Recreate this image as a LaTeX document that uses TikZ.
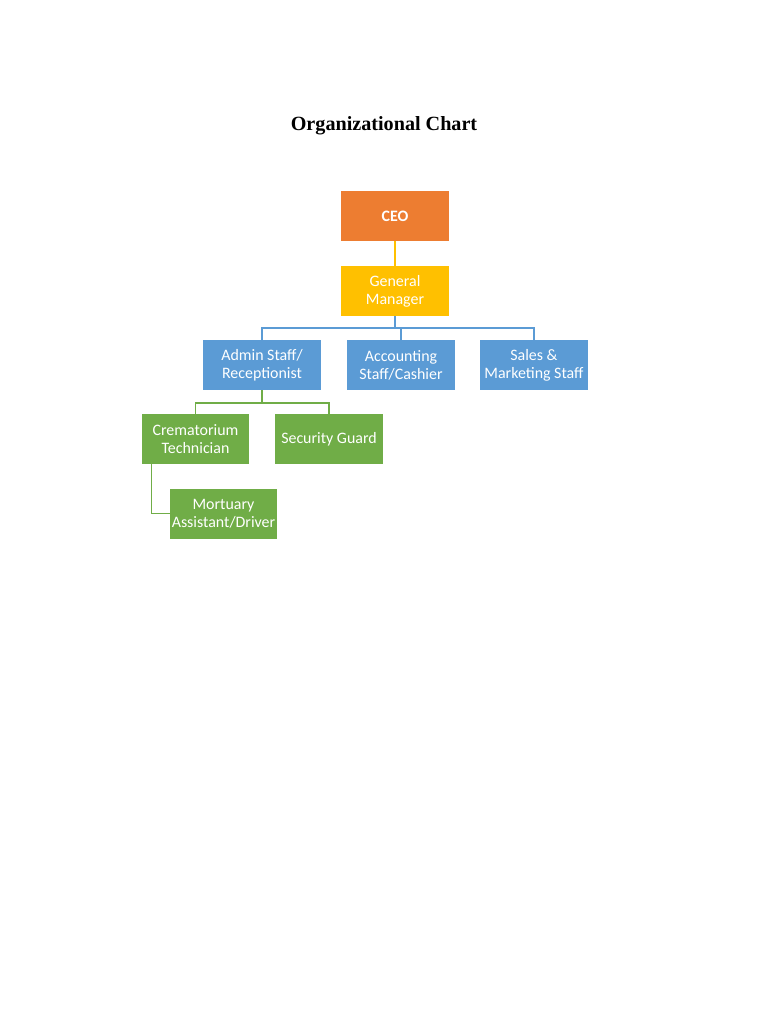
\documentclass[tikz,border=0pt]{standalone}
\usepackage{fontspec}
\setmainfont{Liberation Serif}
\newfontfamily\boxfont{Carlito}
\usepackage{xcolor}
\usepackage{tikz}
\usetikzlibrary{positioning}

\definecolor{ceoorange}{HTML}{ED7D31}
\definecolor{gmyellow}{HTML}{FFC000}
\definecolor{staffblue}{HTML}{5B9BD5}
\definecolor{techgreen}{HTML}{70AD47}

\begin{document}
\begin{tikzpicture}[x=0.03cm,y=-0.03cm,
    unit/.style={rectangle,draw=none,text=white,align=center,inner sep=1pt,
      minimum width=3.24cm,minimum height=1.5cm,font=\boxfont\fontsize{13.6}{15.5}\selectfont},
    link/.style={line width=0.9pt}]
  \useasboundingbox[fill=white] (0,0) rectangle (768,1024);
  \node[font=\bfseries\fontsize{17.2}{20}\selectfont] (title) at (384,126) {Organizational Chart};
  % top of the chart
  \node[unit,fill=ceoorange,font=\boxfont\bfseries\fontsize{13.6}{15.5}\selectfont] (ceo) at (395,216) {CEO};
  \node[unit,fill=gmyellow] (gm) at (395,291) {General\\Manager};
  % staff row
  \node[unit,fill=staffblue,minimum width=3.54cm] (admin) at (262,365) {Admin Staff/\\Receptionist};
  \node[unit,fill=staffblue] (acc) at (401,365) {Accounting\\Staff/Cashier};
  \node[unit,fill=staffblue] (sales) at (534,365) {Sales \&\\Marketing Staff};
  % technicians
  \node[unit,fill=techgreen,minimum width=3.21cm] (crem) at (195.5,439) {Crematorium\\Technician};
  \node[unit,fill=techgreen] (guard) at (329,439) {Security Guard};
  \node[unit,fill=techgreen,minimum width=3.21cm] (mort) at (223.5,513.5) {Mortuary\\Assistant/Driver};
  \coordinate (bus2) at (0,328);
  \coordinate (bus3) at (0,403);
  \draw[link,gmyellow] (ceo) -- (gm);
  \draw[link,staffblue] (gm.south) -- (gm.south |- bus2) -| (admin.north);
  \draw[link,staffblue] (gm.south |- bus2) -| (sales.north);
  \draw[link,staffblue] (acc.north |- bus2) -- (acc.north);
  \draw[link,techgreen] (admin.south) -- (admin.south |- bus3) -| (crem.north);
  \draw[link,techgreen] (admin.south |- bus3) -| (guard.north);
  \draw[link,techgreen] (crem.south west) ++(10,0) |- (mort.west);
\end{tikzpicture}
\end{document}
